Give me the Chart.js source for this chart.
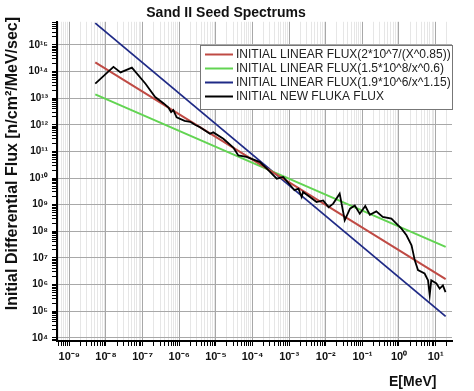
<!DOCTYPE html>
<html>
<head>
<meta charset="utf-8">
<script src="https://cdn.jsdelivr.net/npm/chart.js@4"></script>
<style>
  html, body { margin: 0; padding: 0; background: #fff; }
  #wrap { width: 474px; height: 391px; }
</style>
</head>
<body>
<div id="wrap"><canvas id="seedChart"></canvas></div>
<script>
// --- data ---
const seriesLabels = [
    'INITIAL LINEAR FLUX(2*10^7/(X^0.85))',
    'INITIAL LINEAR FLUX(1.5*10^8/x^0.6)',
    'INITIAL LINEAR FLUX(1.9*10^6/x^1.15)',
    'INITIAL NEW FLUKA FLUX'
];
// straight lines on log-log: end points only
const redE = [5.1e-9, 18.8];
const redFlux = [2.2e14, 1.6e6];
const greenE = [5.1e-9, 18.8];
const greenFlux = [1.4e13, 2.6e7];
const blueE = [5.1e-9, 18.8];
const blueFlux = [6.6e15, 6.4e4];

const flukaE = [5.1e-9, 1.6e-8, 2.5e-8, 5.1e-8, 1.2e-7, 2.2e-7, 3.7e-7, 5.1e-7, 6.0e-7, 6.9e-7,
    8.5e-7, 1.4e-6, 2.0e-6, 2.7e-6, 3.7e-6, 6.9e-6, 8.5e-6, 1.6e-5, 3.0e-5, 4.1e-5,
    6.9e-5, 1.6e-4, 2.5e-4, 4.6e-4, 6.9e-4, 1.05e-3, 1.4e-3, 1.8e-3, 2.2e-3, 2.4e-3,
    3.7e-3, 5.6e-3, 8.5e-3, 1.2e-2, 1.6e-2, 2.4e-2, 3.3e-2, 4.6e-2, 6.2e-2, 8.5e-2,
    0.12, 0.16, 0.24, 0.36, 0.62, 0.85, 1.17, 1.6, 2.2, 2.7,
    3.3, 5.0, 6.2, 6.9, 7.6, 10.5, 12.9, 15.8, 18.6];
const flukaFlux = [3.5e13, 1.5e14, 9.3e13, 1.4e14, 3.5e13, 1.1e13, 6.5e12, 4.4e12, 3.0e12, 3.6e12,
    1.9e12, 1.4e12, 1.3e12, 1.0e12, 8.1e11, 4.6e11, 5.2e11, 3.0e11, 1.4e11, 7.1e10,
    6.2e10, 4.0e10, 2.2e10, 9.5e9, 1.1e10, 5.6e9, 3.5e9, 4.0e9, 1.95e9, 3.0e9,
    1.95e9, 1.26e9, 1.45e9, 8.1e8, 1.1e9, 2.6e9, 2.6e8, 7.1e8, 9.3e8, 4.6e8,
    8.9e8, 4.2e8, 5.6e8, 3.5e8, 3.0e8, 1.95e8, 1.26e8, 7.1e7, 3.0e7, 8.1e6,
    3.5e6, 2.6e6, 1.45e6, 4.0e5, 1.45e6, 1.1e6, 7.1e5, 9.3e5, 5.2e5];

const xMin = 4.6e-10, xMax = 28;
const yMin = 7.6e3, yMax = 7.4e15;

const toPts = (xs, ys) => xs.map((x, i) => ({ x: x, y: ys[i] }));

const sup = { '-': '\u207B', '0': '\u2070', '1': '\u00B9', '2': '\u00B2', '3': '\u00B3',
    '4': '\u2074', '5': '\u2075', '6': '\u2076', '7': '\u2077', '8': '\u2078', '9': '\u2079' };
const isDecade = v => Math.abs(Math.log10(v) - Math.round(Math.log10(v))) < 1e-6;
const decadeLabel = v => '10' + String(Math.round(Math.log10(v))).split('').map(c => sup[c]).join('');

// ticks at 1..9 x 10^n
function logTicks(scale) {
    const ticks = [];
    const lo = Math.floor(Math.log10(scale.min)), hi = Math.ceil(Math.log10(scale.max));
    for (let e = lo; e <= hi; e++) {
        for (let m = 1; m <= 9; m++) {
            const v = m * Math.pow(10, e);
            if (v >= scale.min && v <= scale.max) ticks.push({ value: v });
        }
    }
    scale.ticks = ticks;
}

// legend box drawn inside plot
const boxLegend = {
    id: 'boxLegend',
    afterDraw(chart) {
        const ctx = chart.ctx;
        const x0 = 200, y0 = 45, w = 252, h = 64;
        ctx.save();
        ctx.fillStyle = '#fff';
        ctx.fillRect(x0, y0, w, h);
        ctx.strokeStyle = '#777';
        ctx.lineWidth = 1;
        ctx.strokeRect(x0 + 0.5, y0 + 0.5, w, h);
        ctx.font = '12px Arial, "Liberation Sans", sans-serif';
        ctx.textBaseline = 'middle';
        chart.data.datasets.forEach((ds, i) => {
            const y = y0 + 9.5 + i * 14;
            ctx.strokeStyle = ds.borderColor;
            ctx.lineWidth = 2;
            ctx.beginPath();
            ctx.moveTo(x0 + 5, y);
            ctx.lineTo(x0 + 33, y);
            ctx.stroke();
            ctx.fillStyle = '#222';
            ctx.fillText(ds.label, x0 + 36, y + 0.5);
        });
        ctx.restore();
    }
};

const tickFont = { family: 'Arial, "Liberation Sans", sans-serif', size: 11, weight: 'bold' };

new Chart(document.getElementById('seedChart'), {
    type: 'line',
    data: {
        datasets: [
            { label: seriesLabels[0], data: toPts(redE, redFlux), borderColor: '#bf4a44', borderWidth: 2, order: 2 },
            { label: seriesLabels[1], data: toPts(greenE, greenFlux), borderColor: '#62d452', borderWidth: 2, order: 3 },
            { label: seriesLabels[2], data: toPts(blueE, blueFlux), borderColor: '#1f2a86', borderWidth: 1.8, order: 4 },
            { label: seriesLabels[3], data: toPts(flukaE, flukaFlux), borderColor: '#000', borderWidth: 1.8, order: 1 }
        ]
    },
    options: {
        responsive: true,
        maintainAspectRatio: false,
        animation: false,
        elements: { point: { radius: 0 }, line: { tension: 0 } },
        layout: { padding: { top: 0, right: 22, left: 0, bottom: 0 } },
        plugins: {
            legend: { display: false },
            tooltip: { enabled: false },
            title: {
                display: true,
                text: 'Sand II Seed Spectrums',
                color: '#111',
                font: { family: 'Arial, "Liberation Sans", sans-serif', size: 14, weight: 'bold' },
                padding: { top: 5, bottom: 0 }
            }
        },
        scales: {
            x: {
                type: 'logarithmic',
                min: xMin,
                max: xMax,
                afterBuildTicks: logTicks,
                afterFit: s => { s.height = 50; },
                border: { color: '#000', width: 2 },
                grid: {
                    color: c => isDecade(c.tick.value) ? '#a8a8a8' : '#e6e6e6',
                    tickColor: '#000',
                    tickLength: 5
                },
                ticks: {
                    autoSkip: false,
                    maxRotation: 0,
                    color: '#111',
                    font: tickFont,
                    padding: 4,
                    callback: v => isDecade(v) ? decadeLabel(v) : ''
                },
                title: {
                    display: true,
                    text: 'E[MeV]    ',
                    align: 'end',
                    color: '#111',
                    font: { family: 'Arial, "Liberation Sans", sans-serif', size: 14, weight: 'bold' },
                    padding: { top: 0, bottom: 0 }
                }
            },
            y: {
                type: 'logarithmic',
                min: yMin,
                max: yMax,
                afterBuildTicks: logTicks,
                afterFit: s => { s.width = 57; },
                border: { color: '#000', width: 2 },
                grid: {
                    color: c => isDecade(c.tick.value) ? '#a8a8a8' : 'rgba(0,0,0,0)',
                    tickColor: '#000',
                    tickLength: 5
                },
                ticks: {
                    autoSkip: false,
                    color: '#111',
                    font: { family: 'Arial, "Liberation Sans", sans-serif', size: 10, weight: 'bold' },
                    padding: 4,
                    callback: v => isDecade(v) ? decadeLabel(v) : ''
                },
                title: {
                    display: true,
                    text: '        Initial Differential Flux [n/cm\u00B2/MeV/sec]',
                    color: '#111',
                    font: { family: 'Arial, "Liberation Sans", sans-serif', size: 16, weight: 'bold' },
                    padding: { top: 3, bottom: 0 }
                }
            }
        }
    },
    plugins: [boxLegend]
});
</script>
</body>
</html>
